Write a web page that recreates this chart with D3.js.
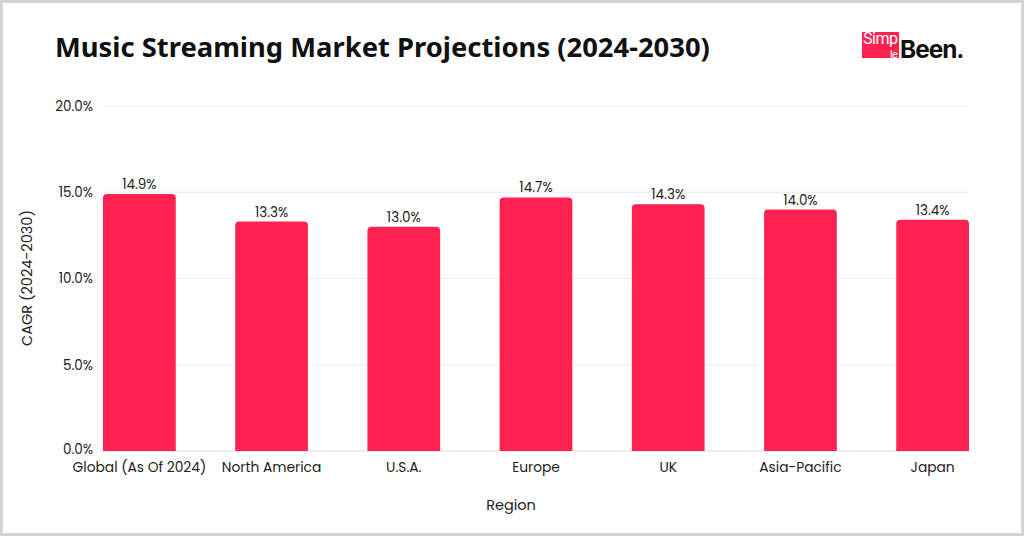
<!DOCTYPE html>
<html><head><meta charset="utf-8">
<script src="https://cdn.jsdelivr.net/npm/d3@7"></script>
<style>body{margin:0;background:#fff}svg{display:block}</style>
</head><body>
<svg id="c" width="1024" height="536"></svg>
<script>
const categories = ["Global (As Of 2024)", "North America", "U.S.A.", "Europe", "UK", "Asia-Pacific", "Japan"];
const values = [14.9, 13.3, 13.0, 14.7, 14.3, 14.0, 13.4];
const yTicks = [0, 5, 10, 15, 20];
const title = "Music Streaming Market Projections (2024-2030)";
const xTitle = "Region";
const yTitle = "CAGR (2024-2030)";

const svg = d3.select("#c");
const font = "Poppins, Inter, 'Open Sans', sans-serif";
svg.append("rect").attr("x",1.5).attr("y",1.5).attr("width",1021).attr("height",533)
  .attr("fill","#fff").attr("stroke","#d3d3d3").attr("stroke-width",3);

function fit(sel, w, size) {
  const n = sel.node().getComputedTextLength();
  sel.attr("font-size", size * w / n);
}

const t = svg.append("text").attr("x",55).attr("y",57).text(title)
  .attr("font-family","'Noto Sans', 'Open Sans', sans-serif").attr("font-weight",700).attr("font-size",25)
  .attr("fill","#111");
fit(t, 655, 25);

// logo
const lg = svg.append("g");
lg.append("rect").attr("x",862).attr("y",32).attr("width",37).attr("height",26).attr("fill","#ff2251");
const s1 = lg.append("text").attr("x",863).attr("y",44).text("Simp").attr("fill","#fff")
  .attr("font-family","Roboto, Inter, sans-serif").attr("font-size",12).attr("letter-spacing",-0.5);
fit(s1, 34, 12);
lg.append("text").attr("x",897).attr("y",57.5).attr("text-anchor","end").text("le").attr("fill","#fff")
  .attr("font-family","Roboto, Inter, sans-serif").attr("font-size",10.5).attr("letter-spacing",-0.5);
const b = lg.append("text").attr("x",900).attr("y",58).text("Been.").attr("fill","#111")
  .attr("font-family","Inter, Roboto, sans-serif").attr("font-weight",700).attr("font-size",22).attr("letter-spacing",-1);
fit(b, 63, 22);

const x = d3.scaleBand().domain(categories).range([103, 969]).paddingInner(0.45).paddingOuter(0);
const y = d3.scaleLinear().domain([0, 20]).range([451, 106]);

const grid = svg.append("g");
grid.selectAll("line").data(yTicks).join("line")
  .attr("x1",103).attr("x2",969).attr("y1",d=>y(d)).attr("y2",d=>y(d))
  .attr("stroke",d=>d===0?"#dcdcdc":"#ececec").attr("stroke-width",1);

const yAxis = svg.append("g").attr("transform","translate(103,0)")
  .call(d3.axisLeft(y).tickValues(yTicks).tickFormat(d=>d.toFixed(1)+"%").tickSize(0).tickPadding(10));
yAxis.select(".domain").remove();
yAxis.selectAll("text").attr("font-family",font).attr("font-size",13.5).attr("fill","#222");
yAxis.selectAll(".tick").filter(d=>d===0).select("text").attr("dy","0.2em");

const r = 4;
svg.append("g").selectAll("path").data(values).join("path")
  .attr("fill","#ff2251")
  .attr("d",(d,i)=>{
    const x0 = x(categories[i]), w = x.bandwidth(), y0 = y(d), y1 = y(0);
    return `M${x0},${y1}V${y0+r}Q${x0},${y0} ${x0+r},${y0}H${x0+w-r}Q${x0+w},${y0} ${x0+w},${y0+r}V${y1}Z`;
  });

svg.append("g").selectAll("text").data(values).join("text")
  .attr("x",(d,i)=>x(categories[i])+x.bandwidth()/2).attr("y",d=>y(d)-5)
  .attr("text-anchor","middle").text(d=>d.toFixed(1)+"%")
  .attr("font-family",font).attr("font-size",13.5).attr("fill","#222");

const xAxis = svg.append("g").attr("transform","translate(0,451)")
  .call(d3.axisBottom(x).tickSize(0).tickPadding(11));
xAxis.select(".domain").remove();
xAxis.selectAll("text").attr("font-family",font).attr("font-size",13.8).attr("fill","#222");

svg.append("text").attr("x",511).attr("y",510).attr("text-anchor","middle").text(xTitle)
  .attr("font-family",font).attr("font-size",14.5).attr("fill","#222");
svg.append("text").attr("transform","translate(32,278) rotate(-90)").attr("text-anchor","middle").text(yTitle)
  .attr("font-family",font).attr("font-size",14.5).attr("fill","#222");
</script>
</body></html>
